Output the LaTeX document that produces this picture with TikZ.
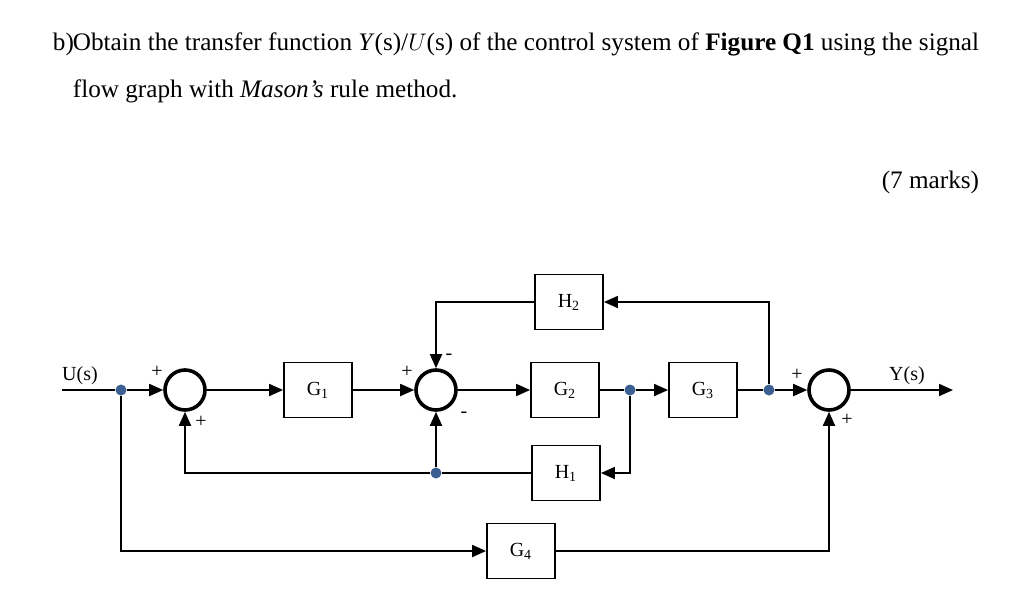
\documentclass[tikz,border=0pt]{standalone}
\usepackage{fontspec}
\setmainfont{Liberation Serif}
\usetikzlibrary{arrows.meta}
\definecolor{dotblue}{RGB}{60,95,145}
\tikzstyle{block} = [rectangle, draw, line width=0.9pt, minimum width=34pt, minimum height=27.5pt, font=\fontsize{10}{11}\selectfont]
\tikzstyle{sum} = [circle, draw, line width=1.8pt, minimum size=20pt, inner sep=0pt]
\tikzstyle{branch} = [circle, fill=dotblue, inner sep=0pt, minimum size=5.5pt]
\tikzstyle{arrow} = [line width=0.9pt, -{Triangle[length=7pt,width=6pt]}]
\tikzstyle{sign} = [font=\fontsize{10}{11}\selectfont, inner sep=0pt]
\tikzstyle{body} = [anchor=base west, font=\fontsize{12.6}{14}\selectfont, inner sep=0pt]
\begin{document}
\begin{tikzpicture}[x=0.5pt, y=-0.5pt, line width=0.9pt]
    \useasboundingbox (0,0) rectangle (1036,605);

    % Question text
    \node (qb) [body] at (52,50) {b)};
    \node (q1) [body] at (72,50) {Obtain the transfer function \textit{Y}(s)/$U$(s) of the control system of \textbf{Figure Q1} using the signal};
    \node (q2) [body] at (72,97) {flow graph with \textit{Mason's} rule method.};
    \node (marks) [body, anchor=base east] at (980,188) {(7 marks)};

    % Blocks
    \node (sum1) [sum] at (185,390) {};
    \node (g1) [block] at (318,390) {G\textsubscript{1}};
    \node (sum2) [sum] at (436,390) {};
    \node (g2) [block] at (565,390) {G\textsubscript{2}};
    \node (h2) [block] at (569,302) {H\textsubscript{2}};
    \node (g3) [block] at (703,390) {G\textsubscript{3}};
    \node (h1) [block] at (566,473) {H\textsubscript{1}};
    \node (g4) [block] at (521,551) {G\textsubscript{4}};
    \node (sum3) [sum] at (829,390) {};

    % Branch points
    \node (b1) [branch] at (121,390) {};
    \node (b2) [branch] at (630,390) {};
    \node (b3) [branch] at (769,390) {};
    \node (b4) [branch] at (436,473) {};
    \coordinate (in) at (62,390);
    \coordinate (out) at (953,390);

    % Forward path
    \draw (in) -- (b1);
    \draw [arrow] (b1) -- (sum1);
    \draw [arrow] (sum1) -- (g1);
    \draw [arrow] (g1) -- (sum2);
    \draw [arrow] (sum2) -- (g2);
    \draw (g2) -- (b2);
    \draw [arrow] (b2) -- (g3);
    \draw (g3) -- (b3);
    \draw [arrow] (b3) -- (sum3);
    \draw [arrow] (sum3) -- (out);

    % Feedback and feedforward paths
    \draw [arrow] (b3) |- (h2);
    \draw [arrow] (h2) -| (sum2);
    \draw [arrow] (b2) |- (h1);
    \draw (h1) -- (b4);
    \draw [arrow] (b4) -- (sum2);
    \draw [arrow] (b4) -| (sum1);
    \draw [arrow] (b1) |- (g4);
    \draw [arrow] (g4) -| (sum3);

    % Labels
    \node (u) [font=\fontsize{10}{11}\selectfont] at (80,376) {U(s)};
    \node (y) [font=\fontsize{10}{11}\selectfont] at (907,376) {Y(s)};
    \node [sign] at (157,372) {+};
    \node [sign] at (201,422) {+};
    \node [sign] at (407,372) {+};
    \node [sign] at (449,357) {-};
    \node [sign] at (464,415) {-};
    \node [sign] at (797,375) {+};
    \node [sign] at (847,420) {+};
\end{tikzpicture}
\end{document}
